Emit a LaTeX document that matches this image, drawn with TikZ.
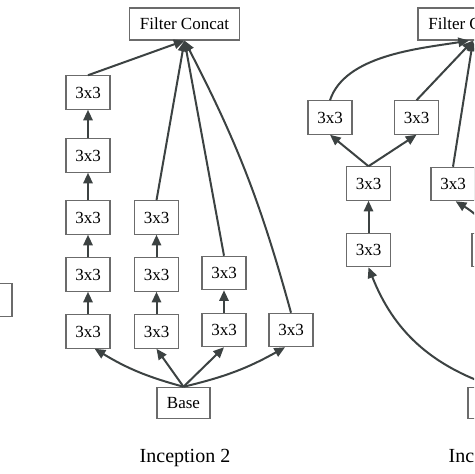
\documentclass[tikz,border=0pt]{standalone}
\usepackage{fontspec}
\setmainfont{Liberation Serif}
\usetikzlibrary{arrows.meta}
\definecolor{boxgray}{HTML}{6B6B6B}
\definecolor{linegray}{HTML}{3C4242}
\tikzset{
  conv/.style={draw=boxgray, line width=0.9pt, minimum width=33pt, minimum height=25pt,
    inner sep=0pt, font=\fontsize{12.75}{15}\selectfont},
  concat/.style={conv, minimum width=82.5pt, minimum height=24pt},
  base/.style={conv, minimum width=39.75pt, minimum height=23.5pt},
  flow/.style={draw=linegray, line width=1.5pt, -{Triangle[length=8pt,width=7pt]}},
  caption/.style={font=\fontsize{15}{18}\selectfont}
}
\begin{document}
\begin{tikzpicture}[x=0.75pt,y=-0.75pt]
      \useasboundingbox (0,0) rectangle (474,474);
      \clip (0,0) rectangle (474,474);
      \node[conv] (z1) at (-10,300) {};
      % Inception 2
      \node[concat] (fca) at (184.5,24) {Filter Concat};
      \node[base] (basea) at (183.5,403) {Base};
      \foreach[count=\i] \y in {331.5,274.5,217.5,155.5,92.5}
        \node[conv] (a\i) at (88,\y) {3x3};
      \foreach[count=\i] \y in {331.5,274.5,217.5}
        \node[conv] (b\i) at (156.5,\y) {3x3};
      \foreach[count=\i] \y in {330,273}
        \node[conv] (c\i) at (224,\y) {3x3};
      \node[conv] (d1) at (291,330) {3x3};
      \foreach \i [count=\j from 2] in {1,...,4}
        \draw[flow] (a\i) -- (a\j);
      \foreach \i [count=\j from 2] in {1,2}
        \draw[flow] (b\i) -- (b\j);
      \draw[flow] (c1) -- (c2);
      \draw[flow] (basea.north) to[bend left=8] ([xshift=5pt]a1.south);
      \draw[flow] (basea.north) -- (b1.south);
      \draw[flow] (basea.north) -- (c1.south);
      \draw[flow] (basea.north) to[bend right=8] ([xshift=-4.5pt]d1.south);
      \draw[flow] (a5.north) -- (fca.south);
      \draw[flow] (b3.north) -- (fca.south);
      \draw[flow] (c2.north) -- (fca.south);
      \draw[flow] (d1.north) to[bend right=6] (fca.south);
      \node[caption] (capa) at (185,458) {Inception 2};
      % Inception 3
      \node[concat] (fcb) at (473,24) {Filter Concat};
      \node[conv] (e1) at (330,117.5) {3x3};
      \node[conv] (e2) at (416.5,117.5) {3x3};
      \node[conv] (f2) at (368.5,183.5) {3x3};
      \node[conv] (f1) at (368.5,250) {3x3};
      \node[conv] (g2) at (453,184) {3x3};
      \node[conv] (g1) at (494,250) {3x3};
      \node[base] (baseb) at (494.5,403) {Base};
      \draw[flow] (f1) -- (f2);
      \draw[flow] (f2.north) -- (e1.south);
      \draw[flow] (f2.north) -- (e2.south);
      \draw[flow] (e1.north) .. controls +(15,-45) and +(-50,8) .. ([xshift=-3pt]fcb.south);
      \draw[flow] (e2.north) -- (fcb.south);
      \draw[flow] (g2.north) -- (fcb.south);
      \draw[flow] (g1.north) to[bend right=8] ([xshift=2pt]g2.south);
      \draw[flow] (baseb.north) to[bend left=25] (f1.south);
      \node[caption] (capb) at (494,458) {Inception 3};
\end{tikzpicture}
\end{document}
